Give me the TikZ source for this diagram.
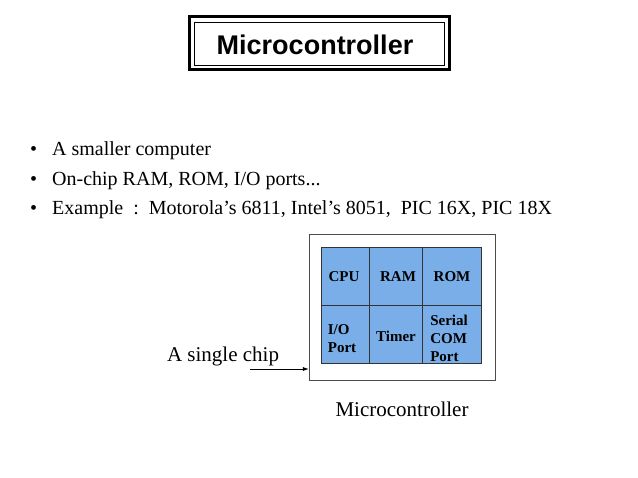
\documentclass[tikz,border=0pt]{standalone}
\usepackage{fontspec}
\usetikzlibrary{arrows.meta}
\setmainfont{Liberation Serif}
\newfontfamily\titlefont{Liberation Sans}
\begin{document}
\begin{tikzpicture}[x=1pt,y=-1pt,
  cell/.style={draw=black!80,fill={rgb,255:red,122;green,174;blue,232},line width=0.8pt},
  ctext/.style={font=\fontsize{15}{18}\selectfont\bfseries,align=left,inner sep=0pt},
  btext/.style={font=\fontsize{20}{22}\selectfont,anchor=west,inner sep=0pt}]
\useasboundingbox (0,0) rectangle (638,478);
\draw[line width=3pt] (189,17) rectangle (449,70);
\draw[line width=0.8pt] (194,22) rectangle (444,65);
\node[font=\titlefont\fontsize{27}{30}\selectfont\bfseries] (title) at (315,45) {Microcontroller};
\node[btext] (b1) at (30,151) {•\hspace{15pt}A smaller computer};
\node[btext] (b2) at (30,181) {•\hspace{15pt}On-chip RAM, ROM, I/O ports...};
\node[btext] (b3) at (30,210) {•\hspace{15pt}Example\ \ :\ \ Motorola’s 6811, Intel’s 8051,\ \ PIC 16X, PIC 18X};
\draw[black!70,line width=0.8pt] (309,234) rectangle (495,380);
\node[draw=none,minimum width=186pt,minimum height=146pt] (chip) at (402,307) {};
\draw[cell] (321,247) rectangle (369,305);
\draw[cell] (369,247) rectangle (422,305);
\draw[cell] (422,247) rectangle (481,305);
\draw[cell] (321,305) rectangle (369,363);
\draw[cell] (369,305) rectangle (422,363);
\draw[cell] (422,305) rectangle (481,363);
\node[ctext] (cpu) at (344,277) {CPU};
\node[ctext] (ram) at (398,277) {RAM};
\node[ctext] (rom) at (452,277) {ROM};
\node[ctext] (io) at (342,339) {I/O\\Port};
\node[ctext] (tim) at (396,336) {Timer};
\node[ctext] (ser) at (449,338) {Serial\\COM\\Port};
\node[font=\fontsize{21}{23}\selectfont,inner sep=0pt] (lab) at (223,356) {A single chip};
\coordinate (a0) at (250,369);
\draw[-{Latex[length=6pt,width=4pt]},line width=0.6pt] (a0) -- (chip.west |- a0);
\node[font=\fontsize{21}{23}\selectfont,inner sep=0pt] (mc) at (402,409) {Microcontroller};
\end{tikzpicture}
\end{document}
